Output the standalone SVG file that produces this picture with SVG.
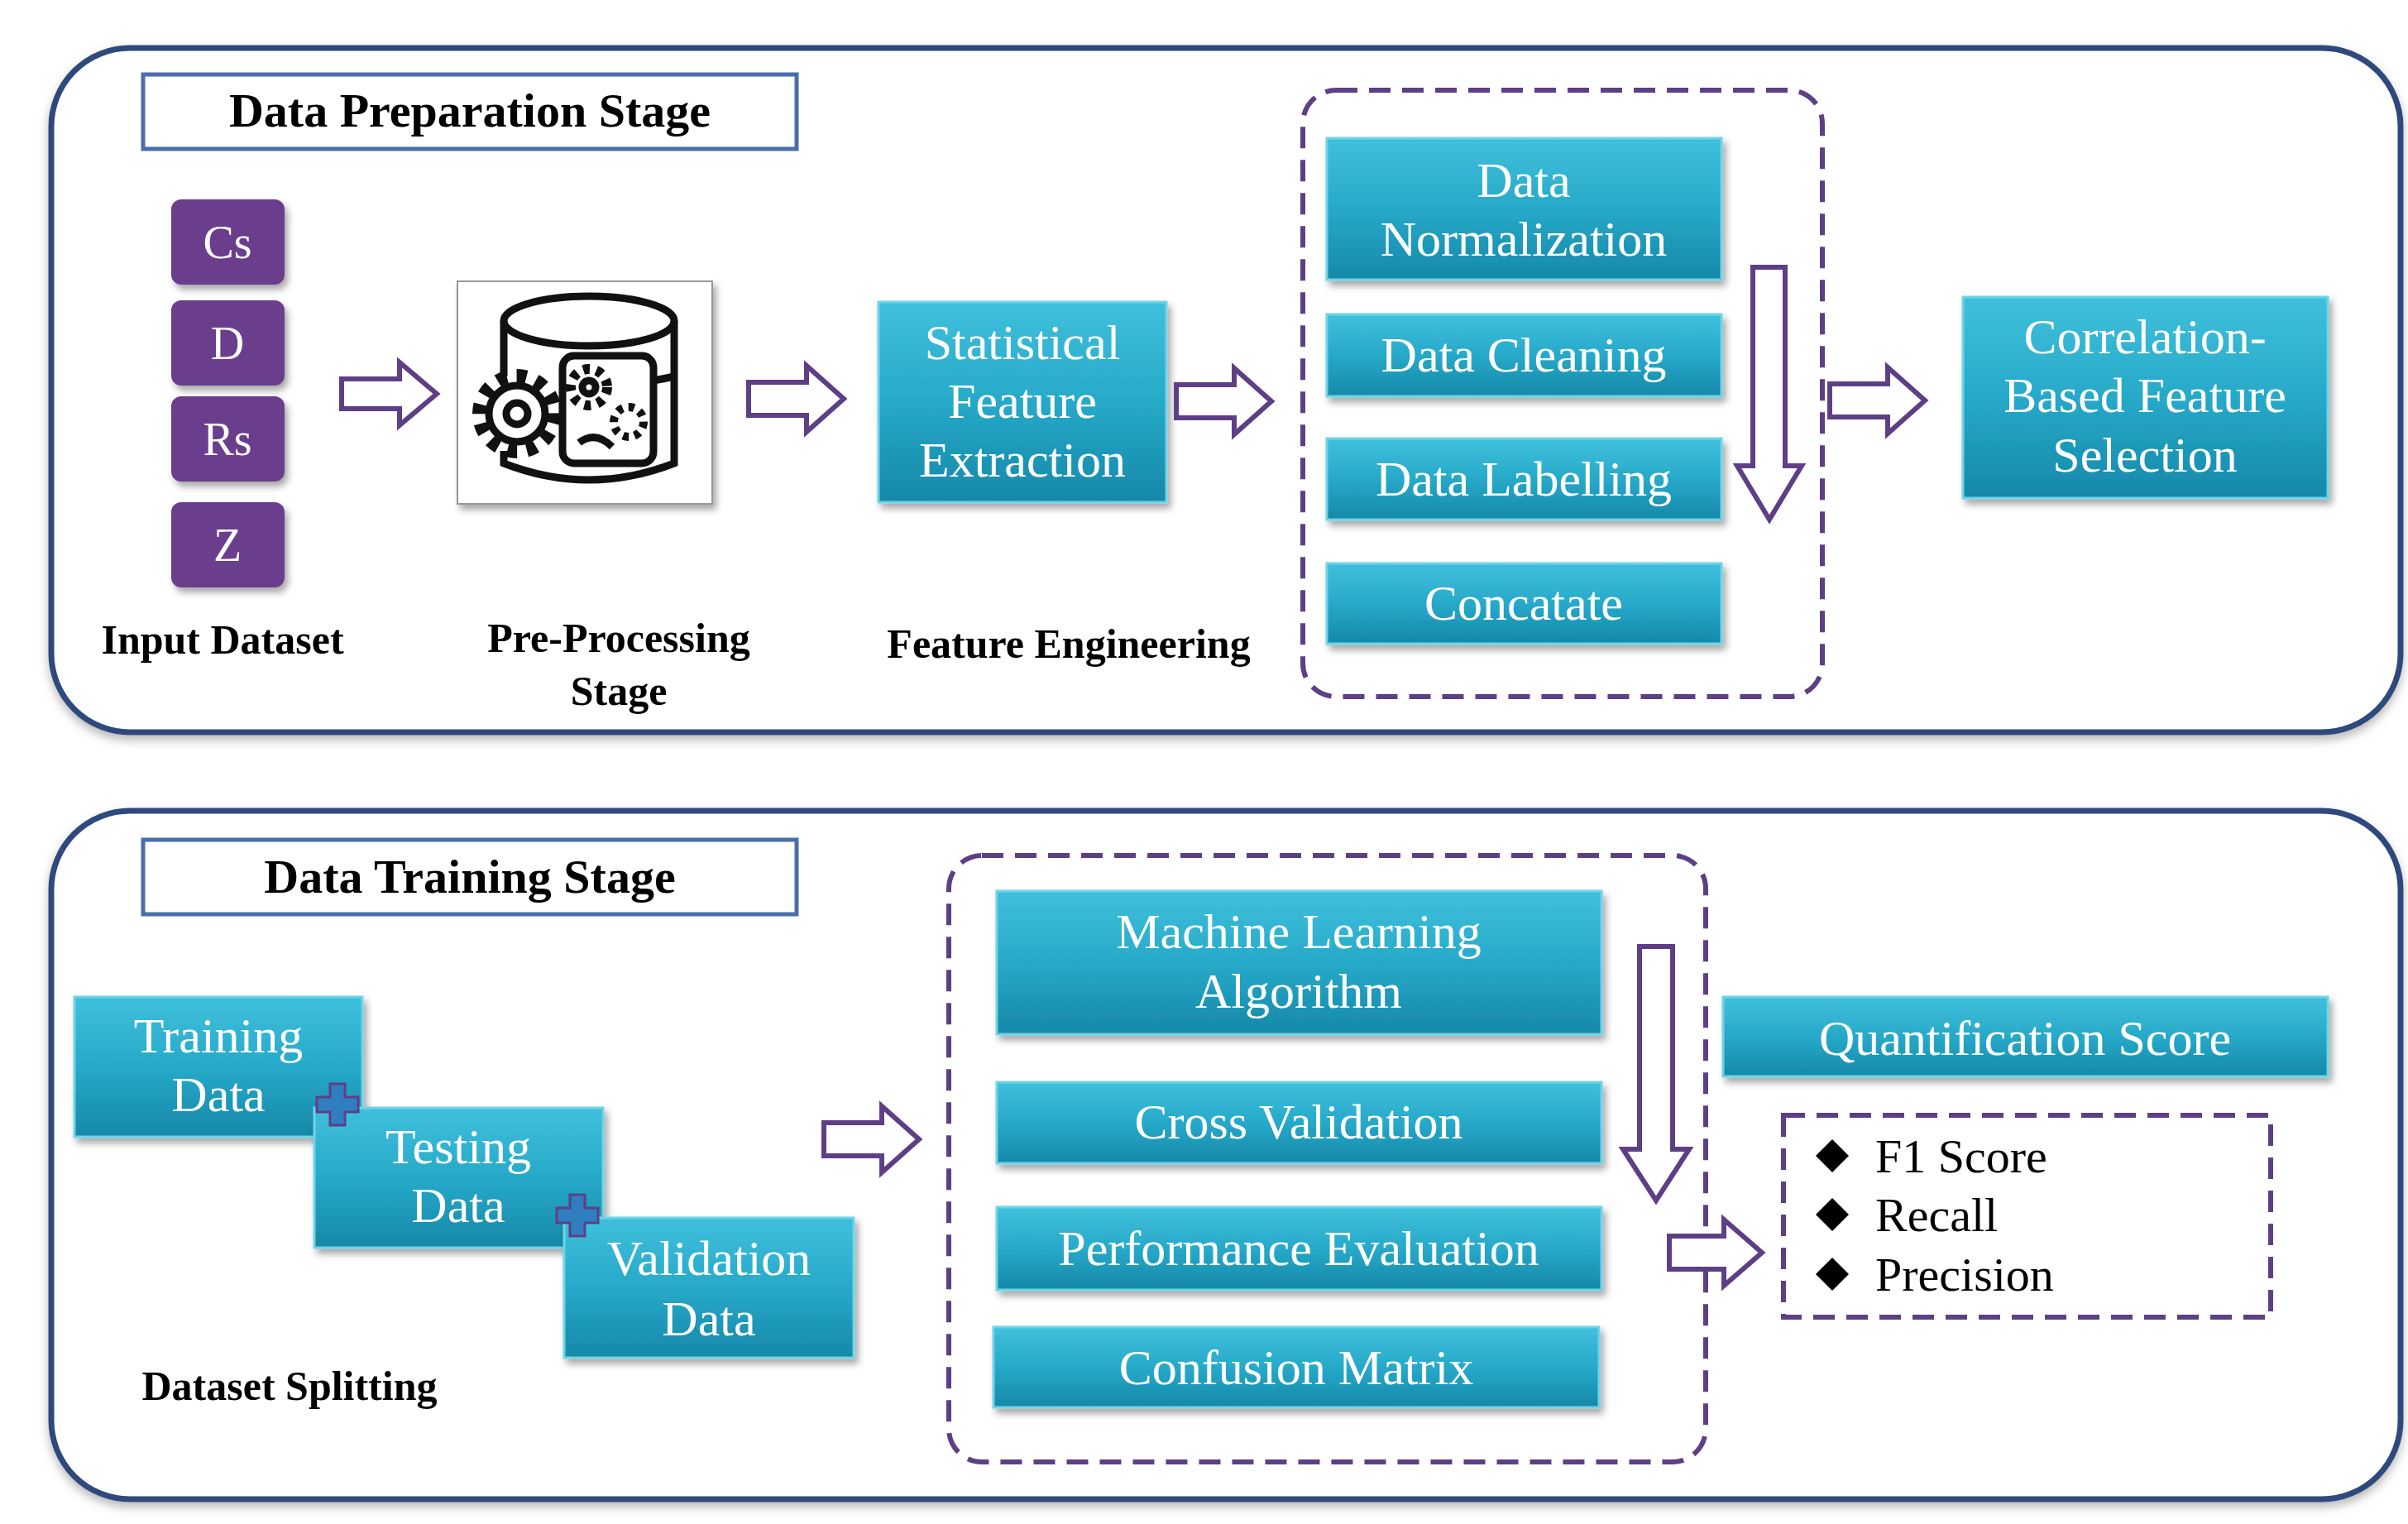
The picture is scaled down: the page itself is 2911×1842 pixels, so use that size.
<svg xmlns="http://www.w3.org/2000/svg" width="2911" height="1842" viewBox="0 0 2911 1842">
<defs>
<linearGradient id="teal" x1="0" y1="0" x2="0" y2="1">
<stop offset="0" stop-color="#3fc0dc"/><stop offset="0.5" stop-color="#27a9c9"/><stop offset="1" stop-color="#1688a8"/>
</linearGradient>
<filter id="sh" x="-10%" y="-10%" width="130%" height="130%"><feDropShadow dx="4" dy="6" stdDeviation="4" flood-color="#000" flood-opacity="0.35"/></filter>
<filter id="psh" x="-5%" y="-5%" width="110%" height="110%"><feDropShadow dx="0" dy="6" stdDeviation="6" flood-color="#888" flood-opacity="0.6"/></filter>
</defs>
<style>
.panel{fill:#fff;stroke:#2e4a7d;stroke-width:7}
.title{fill:#fff;stroke:#4a6fa8;stroke-width:5}
.tt{font-family:"Liberation Serif",serif;font-weight:bold;font-size:58px;fill:#000;text-anchor:middle}
.lbl{font-family:"Liberation Serif",serif;font-weight:bold;font-size:50px;fill:#000;text-anchor:middle}
.box{fill:url(#teal);stroke:#6fd3e8;stroke-width:3;filter:url(#sh)}
.bt{font-family:"Liberation Serif",serif;font-size:60px;fill:#fff;text-anchor:middle}
.pb{fill:#6b3d8d;filter:url(#sh)}
.pt{font-family:"Liberation Serif",serif;font-size:56px;fill:#fff;text-anchor:middle}
.dash{fill:none;stroke:#5e3f86;stroke-width:6;stroke-dasharray:26 14}
.arr{fill:#fff;stroke:#5e3f86;stroke-width:6;stroke-linejoin:miter}
.li{font-family:"Liberation Serif",serif;font-size:58px;fill:#000}
</style>
<rect x="62" y="58" width="2840" height="827" rx="95" class="panel" filter="url(#psh)"/>
<rect x="62" y="980" width="2840" height="832" rx="95" class="panel" filter="url(#psh)"/>
<g id="title1"><rect x="173" y="90" width="790" height="90" class="title"/><text x="568" y="153" class="tt">Data Preparation Stage</text></g>
<g id="title2"><rect x="173" y="1015" width="790" height="90" class="title"/><text x="568" y="1079" class="tt">Data Training Stage</text></g>
<g id="input">
<rect x="207" y="241" width="137" height="103" rx="12" class="pb"/><text x="275" y="312" class="pt">Cs</text>
<rect x="207" y="363" width="137" height="103" rx="12" class="pb"/><text x="275" y="434" class="pt">D</text>
<rect x="207" y="479" width="137" height="103" rx="12" class="pb"/><text x="275" y="550" class="pt">Rs</text>
<rect x="207" y="607" width="137" height="103" rx="12" class="pb"/><text x="275" y="678" class="pt">Z</text>
<text x="269" y="790" class="lbl">Input Dataset</text>
</g>
<g id="preproc">
<rect x="553" y="340" width="308" height="269" fill="#fff" stroke="#999" stroke-width="2" filter="url(#sh)"/>
<g fill="none" stroke="#111" stroke-width="9">
<ellipse cx="712" cy="388" rx="103" ry="30"/>
<path d="M609 388 V455 M609 545 V560 Q712 600 815 560 V388"/>
<path d="M690 462 Q750 470 815 455"/>
<rect x="680" y="430" width="110" height="130" rx="14" fill="#fff"/>
<circle cx="625" cy="500" r="46" stroke-width="16" stroke-dasharray="12 12" fill="#fff"/>
<circle cx="625" cy="500" r="34" fill="#fff"/><circle cx="625" cy="500" r="13"/>
<circle cx="712" cy="468" r="22" stroke-width="12" stroke-dasharray="8 8"/><circle cx="712" cy="468" r="8"/>
<circle cx="760" cy="510" r="18" stroke-width="10" stroke-dasharray="7 7"/>
<path d="M700 535 q20 -15 40 5"/>
</g>
<text x="748" y="788" class="lbl">Pre-Processing</text><text x="748" y="852" class="lbl">Stage</text>
</g>
<g id="sfe"><rect x="1062" y="365" width="348" height="242" class="box"/>
<text x="1236" y="434" class="bt">Statistical</text><text x="1236" y="505" class="bt">Feature</text><text x="1236" y="576" class="bt">Extraction</text>
<text x="1292" y="795" class="lbl">Feature Engineering</text></g>
<g id="fegroup"><rect x="1575" y="109" width="628" height="733" rx="40" class="dash"/>
<rect x="1604" y="167" width="477" height="171" class="box"/><text x="1842" y="238" class="bt">Data</text><text x="1842" y="309" class="bt">Normalization</text>
<rect x="1604" y="380" width="477" height="99" class="box"/><text x="1842" y="449" class="bt">Data Cleaning</text>
<rect x="1604" y="530" width="477" height="98" class="box"/><text x="1842" y="599" class="bt">Data Labelling</text>
<rect x="1604" y="681" width="477" height="97" class="box"/><text x="1842" y="749" class="bt">Concatate</text>
</g>
<g id="cbfs"><rect x="2373" y="359" width="441" height="243" class="box"/>
<text x="2593" y="427" class="bt">Correlation-</text><text x="2593" y="498" class="bt">Based Feature</text><text x="2593" y="570" class="bt">Selection</text></g>
<g id="split">
<rect x="90" y="1205" width="348" height="169" class="box"/><text x="264" y="1272" class="bt">Training</text><text x="264" y="1343" class="bt">Data</text>
<rect x="380" y="1339" width="349" height="169" class="box"/><text x="554" y="1406" class="bt">Testing</text><text x="554" y="1477" class="bt">Data</text>
<rect x="682" y="1472" width="350" height="169" class="box"/><text x="857" y="1541" class="bt">Validation</text><text x="857" y="1614" class="bt">Data</text>
<path d="M383 1326 h16 v-16 h18 v16 h16 v18 h-16 v16 h-18 v-16 h-16z" fill="#2f7fc0" stroke="#5e3f86" stroke-width="3"/>
<path d="M673 1460 h16 v-16 h18 v16 h16 v18 h-16 v16 h-18 v-16 h-16z" fill="#2f7fc0" stroke="#5e3f86" stroke-width="3"/>
<text x="350" y="1692" class="lbl">Dataset Splitting</text>
</g>
<g id="mlgroup"><rect x="1147" y="1034" width="915" height="733" rx="40" class="dash"/>
<rect x="1205" y="1077" width="731" height="173" class="box"/><text x="1570" y="1146" class="bt">Machine Learning</text><text x="1570" y="1218" class="bt">Algorithm</text>
<rect x="1205" y="1308" width="731" height="98" class="box"/><text x="1570" y="1376" class="bt">Cross Validation</text>
<rect x="1205" y="1459" width="731" height="100" class="box"/><text x="1570" y="1529" class="bt">Performance Evaluation</text>
<rect x="1201" y="1604" width="732" height="97" class="box"/><text x="1567" y="1673" class="bt">Confusion Matrix</text>
</g>
<g id="quant"><rect x="2083" y="1205" width="731" height="96" class="box"/><text x="2448" y="1275" class="bt">Quantification Score</text></g>
<g id="metrics"><rect x="2156" y="1348" width="589" height="244" class="dash" stroke-dasharray="20 10"/>
<path d="M2215 1377 l20 20 -20 20 -20 -20z M2215 1448 l20 20 -20 20 -20 -20z M2215 1520 l20 20 -20 20 -20 -20z" fill="#000"/>
<text x="2267" y="1417" class="li">F1 Score</text><text x="2267" y="1488" class="li">Recall</text><text x="2267" y="1560" class="li">Precision</text>
</g>
<g id="connectors">
<path class="arr" d="M413 458 h70 v-20 l45 38 -45 38 v-20 h-70z"/>
<path class="arr" d="M905 462 h70 v-20 l45 40 -45 40 v-20 h-70z"/>
<path class="arr" d="M1422 465 h70 v-20 l45 40 -45 40 v-20 h-70z"/>
<path class="arr" d="M2212 464 h70 v-20 l45 40 -45 40 v-20 h-70z"/>
<path class="arr" d="M2119 323 h39 v240 h20 l-39 65 -39 -65 h19z"/>
<path class="arr" d="M996 1357 h70 v-20 l45 40 -45 40 v-20 h-70z"/>
<path class="arr" d="M1982 1144 h40 v245 h20 l-40 62 -40 -62 h20z"/>
<path class="arr" d="M2018 1494 h66 v-20 l46 40 -46 40 v-20 h-66z"/>
</g>
</svg>
